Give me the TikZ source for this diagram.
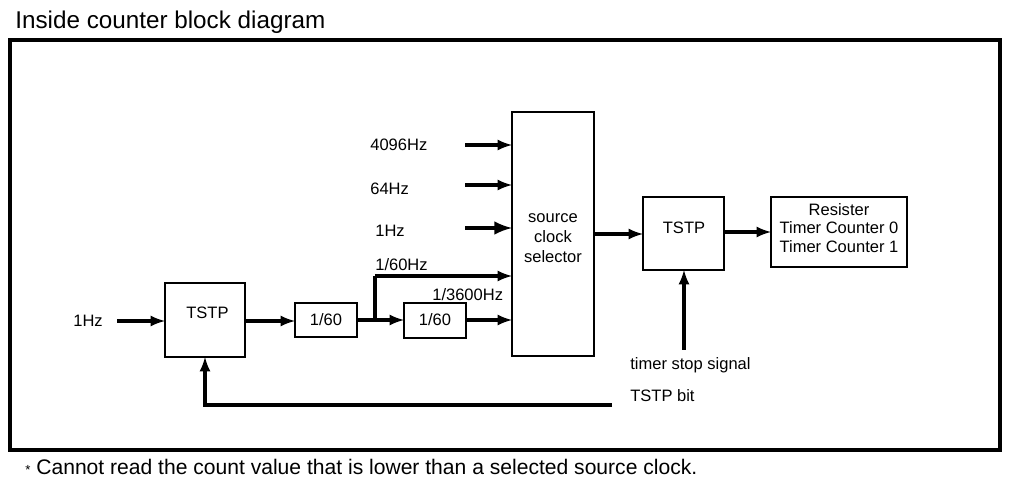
\documentclass[tikz,border=0pt]{standalone}
\usepackage{fontspec}
\setmainfont{Liberation Sans}
\begin{document}
\begin{tikzpicture}[x=0.02cm,y=-0.02cm,
  lw/.style={line width=1.8pt},
  arr/.style={lw,-latex},
  lbl/.style={font=\fontsize{9.4}{11}\selectfont,anchor=west,inner sep=0pt}]
\useasboundingbox (0,0) rectangle (1019,479);
\node[anchor=west,font=\fontsize{13.8}{15}\selectfont,inner sep=0pt] (title) at (15,22) {Inside counter block diagram};
\draw[line width=1.8pt] (10,40) rectangle (1000,450);
\draw[line width=0.6pt] (165,283) rectangle (245,357); \node[lbl] (t1) at (186,313) {TSTP};
\coordinate (t1w) at (165,321); \coordinate (t1e) at (245,321); \coordinate (t1s) at (205,357);
\draw[line width=0.6pt] (295,303) rectangle (357,337); \node[lbl,anchor=center] (d1) at (326,320) {1/60};
\draw[line width=0.6pt] (404,303) rectangle (466,338); \node[lbl,anchor=center] (d2) at (435,320) {1/60};
\draw[line width=0.6pt] (512,112) rectangle (594,356);
\node[lbl,anchor=center,align=center,font=\fontsize{9.4}{11.5}\selectfont] (sel) at (553,238) {source\\clock\\selector};
\draw[line width=0.6pt] (643,197) rectangle (724,270); \node[lbl,anchor=center] (t2) at (684,228) {TSTP};
\draw[line width=0.6pt] (771,197) rectangle (907,267);
\node[lbl,anchor=center,align=center,font=\fontsize{9.4}{10.5}\selectfont] (res) at (839,228) {Resister\\Timer Counter 0\\Timer Counter 1};
\node[lbl] (f1) at (370,145) {4096Hz};
\node[lbl] (f2) at (370,189) {64Hz};
\node[lbl] (f3) at (375,231) {1Hz};
\node[lbl] (f4) at (375,265) {1/60Hz};
\node[lbl] (f5) at (432,295) {1/3600Hz};
\node[lbl] (in) at (73,321) {1Hz};
\node[lbl] (tss) at (630,365) {timer stop signal};
\node[lbl] (tb) at (630,396) {TSTP bit};
\coordinate (a1) at (465,145); \coordinate (b1) at (512,145);
\coordinate (a2) at (465,185); \coordinate (b2) at (512,185);
\coordinate (a3) at (465,228); \coordinate (b3) at (512,228);
\draw[arr] (a1) -- (b1); \draw[arr] (a2) -- (b2); \draw[arr,line width=2.4pt] (a3) -- (b3);
\coordinate (br) at (375,320);
\draw[lw] (br) -- (375,276); \draw[arr] (375,276) -- (512,276);
\draw[arr] (466,320) -- (512,320);
\draw[arr] (117,321) -- (t1w);
\draw[arr] (t1e) -- (295,321);
\draw[arr] (357,320) -- (404,320);
\draw[arr] (594,234) -- (643,234);
\draw[arr] (724,232) -- (771,232);
\draw[arr] (684,350) -- (684,270);
\draw[arr] (612,405) -- (205,405) -- (t1s);
\node[anchor=west,font=\fontsize{12}{14}\selectfont,inner sep=0pt] (fn) at (25,467) {{\fontsize{7.5}{8}\selectfont *}\ Cannot read the count value that is lower than a selected source clock.};
\end{tikzpicture}
\end{document}
